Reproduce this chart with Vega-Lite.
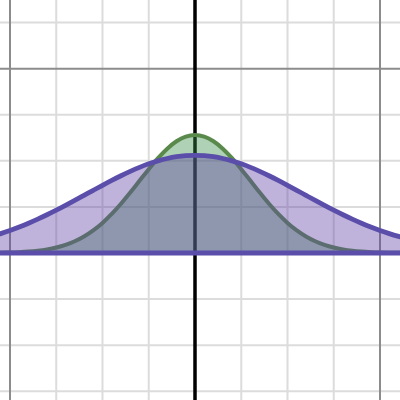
{
  "$schema": "https://vega.github.io/schema/vega-lite/v6.json",
  "autosize": {"type": "none"},
  "width": 400,
  "height": 400,
  "padding": 0,
  "background": "white",
  "config": {"view": {"stroke": null}},
  "datasets": {
    "curves": [
      {"x": -2.2, "green": 0.0017, "purple": 0.1798},
      {"x": -2.1, "green": 0.0031, "purple": 0.2105},
      {"x": -2.0, "green": 0.0054, "purple": 0.2446},
      {"x": -1.9, "green": 0.0092, "purple": 0.2822},
      {"x": -1.8, "green": 0.0153, "purple": 0.3232},
      {"x": -1.7, "green": 0.0247, "purple": 0.3675},
      {"x": -1.6, "green": 0.0388, "purple": 0.4147},
      {"x": -1.5, "green": 0.0592, "purple": 0.4646},
      {"x": -1.4, "green": 0.0880, "purple": 0.5168},
      {"x": -1.3, "green": 0.1272, "purple": 0.5705},
      {"x": -1.2, "green": 0.1790, "purple": 0.6253},
      {"x": -1.1, "green": 0.2451, "purple": 0.6803},
      {"x": -1.0, "green": 0.3265, "purple": 0.7347},
      {"x": -0.9, "green": 0.4233, "purple": 0.7877},
      {"x": -0.8, "green": 0.5340, "purple": 0.8383},
      {"x": -0.7, "green": 0.6554, "purple": 0.8857},
      {"x": -0.6, "green": 0.7827, "purple": 0.9290},
      {"x": -0.5, "green": 0.9097, "purple": 0.9672},
      {"x": -0.4, "green": 1.0287, "purple": 0.9996},
      {"x": -0.3, "green": 1.1319, "purple": 1.0256},
      {"x": -0.2, "green": 1.2119, "purple": 1.0446},
      {"x": -0.1, "green": 1.2626, "purple": 1.0561},
      {"x": 0.0, "green": 1.2800, "purple": 1.0600},
      {"x": 0.1, "green": 1.2626, "purple": 1.0561},
      {"x": 0.2, "green": 1.2119, "purple": 1.0446},
      {"x": 0.3, "green": 1.1319, "purple": 1.0256},
      {"x": 0.4, "green": 1.0287, "purple": 0.9996},
      {"x": 0.5, "green": 0.9097, "purple": 0.9672},
      {"x": 0.6, "green": 0.7827, "purple": 0.9290},
      {"x": 0.7, "green": 0.6554, "purple": 0.8857},
      {"x": 0.8, "green": 0.5340, "purple": 0.8383},
      {"x": 0.9, "green": 0.4233, "purple": 0.7877},
      {"x": 1.0, "green": 0.3265, "purple": 0.7347},
      {"x": 1.1, "green": 0.2451, "purple": 0.6803},
      {"x": 1.2, "green": 0.1790, "purple": 0.6253},
      {"x": 1.3, "green": 0.1272, "purple": 0.5705},
      {"x": 1.4, "green": 0.0880, "purple": 0.5168},
      {"x": 1.5, "green": 0.0592, "purple": 0.4646},
      {"x": 1.6, "green": 0.0388, "purple": 0.4147},
      {"x": 1.7, "green": 0.0247, "purple": 0.3675},
      {"x": 1.8, "green": 0.0153, "purple": 0.3232},
      {"x": 1.9, "green": 0.0092, "purple": 0.2822},
      {"x": 2.0, "green": 0.0054, "purple": 0.2446},
      {"x": 2.1, "green": 0.0031, "purple": 0.2105},
      {"x": 2.2, "green": 0.0017, "purple": 0.1798},
      {"x": 2.3, "green": 0.0009, "purple": 0.1524}
    ],
    "vminor": [
      {"v": -1.5}, {"v": -1.0}, {"v": -0.5}, {"v": 0.5}, {"v": 1.0}, {"v": 1.5}
    ],
    "hminor": [
      {"v": -1.5}, {"v": -1.0}, {"v": -0.5}, {"v": 0.5}, {"v": 1.0}, {"v": 1.5}, {"v": 2.5}
    ],
    "vmajor": [{"v": -2}, {"v": 2}],
    "hmajor": [{"v": 2}]
  },
  "layer": [
    {
      "data": {"name": "vminor"},
      "mark": {"type": "rule", "color": "#dcdcdc", "strokeWidth": 2},
      "encoding": {
        "x": {"field": "v", "type": "quantitative", "scale": {"domain": [-2.1081, 2.2162], "nice": false, "zero": false}, "axis": null}
      }
    },
    {
      "data": {"name": "hminor"},
      "mark": {"type": "rule", "color": "#dcdcdc", "strokeWidth": 2},
      "encoding": {
        "y": {"field": "v", "type": "quantitative", "scale": {"domain": [-1.595, 2.745], "nice": false, "zero": false}, "axis": null}
      }
    },
    {
      "data": {"name": "vmajor"},
      "mark": {"type": "rule", "color": "#8c8c8c", "strokeWidth": 2},
      "encoding": {
        "x": {"field": "v", "type": "quantitative"}
      }
    },
    {
      "data": {"name": "hmajor"},
      "mark": {"type": "rule", "color": "#8c8c8c", "strokeWidth": 2},
      "encoding": {
        "y": {"field": "v", "type": "quantitative"}
      }
    },
    {
      "data": {"name": "vmajor"},
      "mark": {"type": "rule", "color": "#000000", "strokeWidth": 3},
      "encoding": {
        "x": {"datum": 0, "type": "quantitative"}
      }
    },
    {
      "data": {"name": "curves"},
      "mark": {"type": "area", "color": "#388c46", "opacity": 0.4, "interpolate": "monotone", "clip": true},
      "encoding": {
        "x": {"field": "x", "type": "quantitative"},
        "y": {"field": "green", "type": "quantitative"},
        "y2": {"datum": 0}
      }
    },
    {
      "data": {"name": "curves"},
      "mark": {"type": "line", "color": "#5a8a4b", "strokeWidth": 4, "interpolate": "monotone", "clip": true},
      "encoding": {
        "x": {"field": "x", "type": "quantitative"},
        "y": {"field": "green", "type": "quantitative"}
      }
    },
    {
      "data": {"name": "curves"},
      "mark": {"type": "area", "color": "#6042a6", "opacity": 0.4, "interpolate": "monotone", "clip": true},
      "encoding": {
        "x": {"field": "x", "type": "quantitative"},
        "y": {"field": "purple", "type": "quantitative"},
        "y2": {"datum": 0}
      }
    },
    {
      "data": {"name": "curves"},
      "mark": {"type": "line", "color": "#5a4eaa", "strokeWidth": 4.8, "interpolate": "monotone", "clip": true},
      "encoding": {
        "x": {"field": "x", "type": "quantitative"},
        "y": {"field": "purple", "type": "quantitative"}
      }
    },
    {
      "data": {"name": "hmajor"},
      "mark": {"type": "rule", "color": "#5a4eaa", "strokeWidth": 4.8},
      "encoding": {
        "y": {"datum": 0, "type": "quantitative"}
      }
    }
  ]
}
